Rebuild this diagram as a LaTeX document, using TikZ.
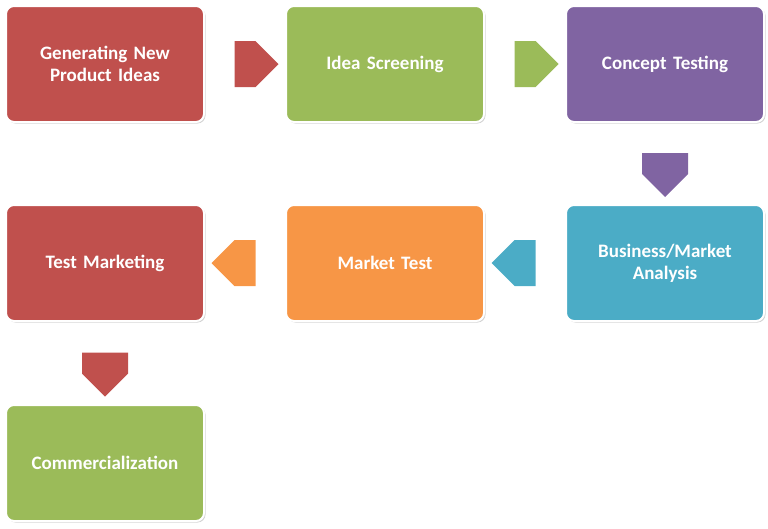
\documentclass[tikz,border=0pt]{standalone}
\usepackage{fontspec}
\setmainfont{Carlito}
\usetikzlibrary{shapes.arrows, positioning, shadows, calc}
\definecolor{stepred}{HTML}{C0504D}
\definecolor{stepgreen}{HTML}{9BBB59}
\definecolor{steppurple}{HTML}{8064A2}
\definecolor{stepteal}{HTML}{4BACC6}
\definecolor{steporange}{HTML}{F79646}

\tikzset{
  step/.style={
    rectangle, rounded corners=8pt, fill=#1, draw=white, line width=2pt,
    minimum width=198pt, minimum height=116pt, text width=180pt,
    align=center, text=white, font=\fontsize{19}{22}\selectfont\bfseries,
    drop shadow={shadow xshift=1.5pt, shadow yshift=-1.5pt, opacity=0.35}
  },
  flow/.style={
    single arrow, fill=#1, draw=none, minimum height=44pt,
    minimum width=46pt, single arrow head extend=0pt, inner sep=0pt
  }
}

\begin{document}
\begin{tikzpicture}[x=1pt, y=-1pt]
  \useasboundingbox (0,0) rectangle (768,528);

  % top row
  \node[step=stepred] (gen) at (105,64) {Generating New\\Product Ideas};
  \node[step=stepgreen] (screen) at (385,64) {Idea Screening};
  \node[step=steppurple] (concept) at (665,64) {Concept Testing};
  % middle row
  \node[step=stepteal] (business) at (665,263) {Business/Market\\Analysis};
  \node[step=steporange] (market) at (385,263) {Market Test};
  \node[step=stepred] (testmkt) at (105,263) {Test Marketing};
  % bottom row
  \node[step=stepgreen] (comm) at (105,463) {Commercialization};

  \node[flow=stepred] at ($(gen.east)!0.5!(screen.west)$) {};
  \node[flow=stepgreen] at ($(screen.east)!0.5!(concept.west)$) {};
  \node[flow=steppurple, rotate=-90] at ($(concept.south)!0.5!(business.north)$) {};
  \node[flow=stepteal, rotate=180] at ($(business.west)!0.5!(market.east)$) {};
  \node[flow=steporange, rotate=180] at ($(market.west)!0.5!(testmkt.east)$) {};
  \node[flow=stepred, rotate=-90] at ($(testmkt.south)!0.5!(comm.north)$) {};
\end{tikzpicture}
\end{document}
